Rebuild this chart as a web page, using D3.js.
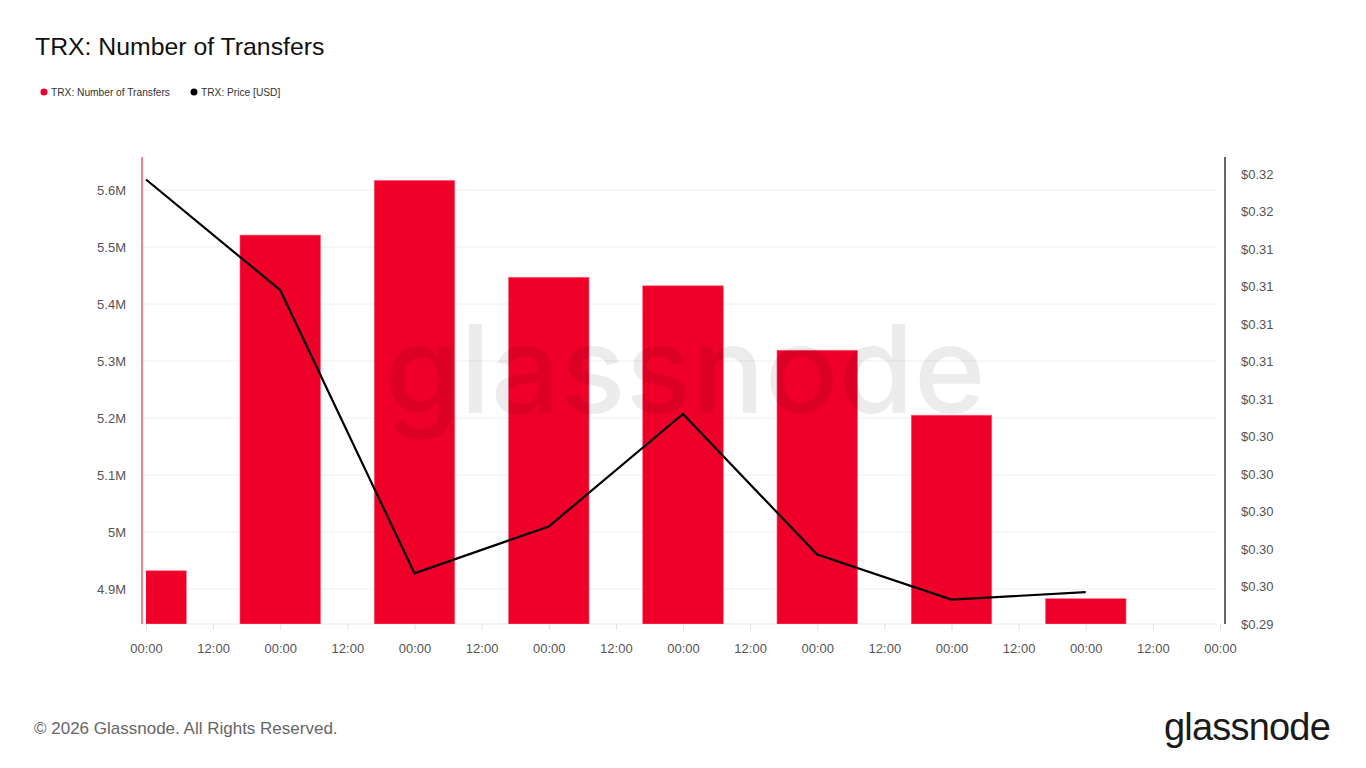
<!DOCTYPE html>
<html>
<head>
<meta charset="utf-8">
<script src="https://cdn.jsdelivr.net/npm/d3@7"></script>
<style>
  body { margin: 0; background: #fff; font-family: "Liberation Sans", Arial, sans-serif; }
  svg { display: block; }
</style>
</head>
<body>
<div id="chart"></div>
<script>
// data (one point per day)
var days = ["2026-01-01", "2026-01-02", "2026-01-03", "2026-01-04", "2026-01-05", "2026-01-06", "2026-01-07", "2026-01-08"];
var transfers = [4.932e6, 5.521e6, 5.617e6, 5.447e6, 5.432e6, 5.319e6, 5.205e6, 4.883e6];
var price = [0.3177, 0.3118, 0.2967, 0.2992, 0.3052, 0.2977, 0.2953, 0.2957];
var leftTicks = [4.9e6, 5.0e6, 5.1e6, 5.2e6, 5.3e6, 5.4e6, 5.5e6, 5.6e6];
var rightTicks = [0.294, 0.296, 0.298, 0.300, 0.302, 0.304, 0.306, 0.308, 0.310, 0.312, 0.314, 0.316, 0.318];

var W = 1366, H = 768;
var red = "#ee0028";
var parse = d3.timeParse("%Y-%m-%d");
var dates = days.map(parse);

var svg = d3.select("#chart").append("svg").attr("width", W).attr("height", H);

// title + legend
svg.append("text").attr("x", 35).attr("y", 55).attr("font-size", 24.8).attr("fill", "#111").text("TRX: Number of Transfers");
var leg = [{ c: red, t: "TRX: Number of Transfers", x: 44 }, { c: "#000", t: "TRX: Price [USD]", x: 194 }];
leg.forEach(function (l) {
  svg.append("circle").attr("cx", l.x).attr("cy", 92).attr("r", 3.5).attr("fill", l.c);
  svg.append("text").attr("x", l.x + 7).attr("y", 96).attr("font-size", 10.2).attr("fill", "#333").text(l.t);
});

var pTop = 157, pBottom = 624, pLeft = 142, pRight = 1225;

var x = d3.scaleTime()
  .domain([dates[0], d3.timeDay.offset(dates[0], 8)])
  .range([146, 1220]);
var yL = d3.scaleLinear().domain([4.8386e6, 5.658e6]).range([pBottom, pTop]);
var yR = d3.scaleLinear().domain([0.294, 0.3189]).range([pBottom, pTop]);

// grid
svg.append("g").selectAll("line").data(leftTicks).join("line")
  .attr("x1", pLeft).attr("x2", pRight - 8).attr("y1", yL).attr("y2", yL)
  .attr("stroke", "#eeeeee");
svg.append("line").attr("x1", pLeft).attr("x2", pRight - 8).attr("y1", pBottom).attr("y2", pBottom).attr("stroke", "#e8e8e8");

// bars
var dayW = x(dates[1]) - x(dates[0]);
var bw = dayW * 0.6;
svg.append("defs").append("clipPath").attr("id", "clip")
  .append("rect").attr("x", 146).attr("y", pTop).attr("width", pRight - 146).attr("height", pBottom - pTop);
svg.append("g").attr("clip-path", "url(#clip)").selectAll("rect").data(transfers).join("rect")
  .attr("x", function (d, i) { return x(dates[i]) - bw / 2; })
  .attr("width", bw)
  .attr("y", function (d) { return yL(d); })
  .attr("height", function (d) { return pBottom - yL(d); })
  .attr("fill", red).attr("stroke", "#ff6680").attr("stroke-width", 0.6);

// watermark (sits above the bars)
svg.append("text").attr("x", 685).attr("y", 413).attr("text-anchor", "middle")
  .attr("font-family", "Inter, sans-serif").attr("font-weight", 500)
  .attr("font-size", 122).attr("letter-spacing", 0).attr("fill", "#000").attr("fill-opacity", 0.075).text("glassnode");

// price line
var line = d3.line().x(function (d, i) { return x(dates[i]); }).y(function (d) { return yR(d); });
svg.append("path").datum(price).attr("d", line).attr("fill", "none").attr("stroke", "#000").attr("stroke-width", 2.2);

// axes
var xAxis = d3.axisBottom(x).ticks(d3.timeHour.every(12)).tickFormat(d3.timeFormat("%H:%M")).tickSize(6).tickPadding(14);
var gx = svg.append("g").attr("transform", "translate(0," + pBottom + ")").call(xAxis);
gx.select(".domain").remove();
gx.selectAll(".tick line").attr("stroke", "#e0e0e0");
gx.selectAll(".tick text").attr("font-size", 13).attr("fill", "#555").attr("font-family", "Liberation Sans, Arial");

var gl = svg.append("g").attr("transform", "translate(" + pLeft + ",0)")
  .call(d3.axisLeft(yL).tickValues(leftTicks).tickSize(0).tickPadding(16)
    .tickFormat(function (d) { return d3.format(".2~s")(d); }));
gl.select(".domain").remove();
gl.selectAll(".tick text").attr("font-size", 13).attr("fill", "#555").attr("font-family", "Liberation Sans, Arial");
svg.append("line").attr("x1", pLeft).attr("x2", pLeft).attr("y1", pTop).attr("y2", pBottom).attr("stroke", red).attr("stroke-width", 1);

var gr = svg.append("g").attr("transform", "translate(" + pRight + ",0)")
  .call(d3.axisRight(yR).tickValues(rightTicks).tickSize(0).tickPadding(16)
    .tickFormat(function (d) { return "$" + d3.format(".2f")(d); }));
gr.select(".domain").remove();
gr.selectAll(".tick text").attr("font-size", 13).attr("fill", "#555").attr("font-family", "Liberation Sans, Arial");
svg.append("line").attr("x1", pRight).attr("x2", pRight).attr("y1", pTop).attr("y2", pBottom).attr("stroke", "#000").attr("stroke-width", 1.2);

// footer
svg.append("text").attr("x", 34).attr("y", 734).attr("font-size", 17).attr("fill", "#666").text("\u00a9 2026 Glassnode. All Rights Reserved.");
svg.append("text").attr("x", 1330).attr("y", 740).attr("text-anchor", "end").attr("font-size", 38)
  .attr("fill", "#1a1a1a").attr("letter-spacing", -0.8).text("glassnode");
</script>
</body>
</html>
